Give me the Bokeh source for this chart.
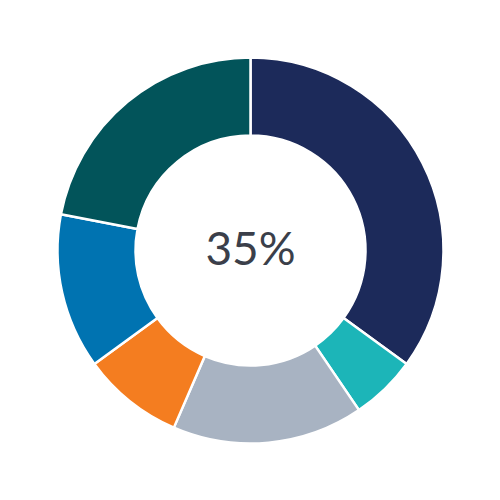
import numpy as np
from bokeh.plotting import figure
from bokeh.models import ColumnDataSource
from bokeh.core.properties import value
from bokeh.embed import file_html
from bokeh.resources import INLINE

# slices clockwise from 12 o'clock
shares = [35, 5.5, 16, 8.5, 13, 22]
colors = ["#1c2a5a", "#1cb5b8", "#a8b3c2", "#f47d20", "#0073b1", "#02545a"]
center_label = "35%"

cum = np.cumsum([0] + shares) / sum(shares)
start = np.pi / 2 - cum[:-1] * 2 * np.pi
end = np.pi / 2 - cum[1:] * 2 * np.pi

src = ColumnDataSource(data=dict(start=start, end=end, color=colors))

p = figure(width=484, height=484, x_range=(-250, 234), y_range=(-234, 250),
           output_backend="svg", toolbar_location=None, min_border=0)
p.axis.visible = False
p.grid.visible = False
p.outline_line_color = None

p.annular_wedge(x=0, y=0, inner_radius=115, outer_radius=193,
                start_angle='start', end_angle='end', direction="clock",
                fill_color='color', line_color="white", line_width=2.5,
                source=src)

p.text(x=[0], y=[3], text=[center_label], text_align="center",
       text_baseline="middle", text_font=value("Lato"),
       text_font_size="46px", text_color="#3b3f4a")

open("out.html", "w").write(file_html(p, INLINE))
